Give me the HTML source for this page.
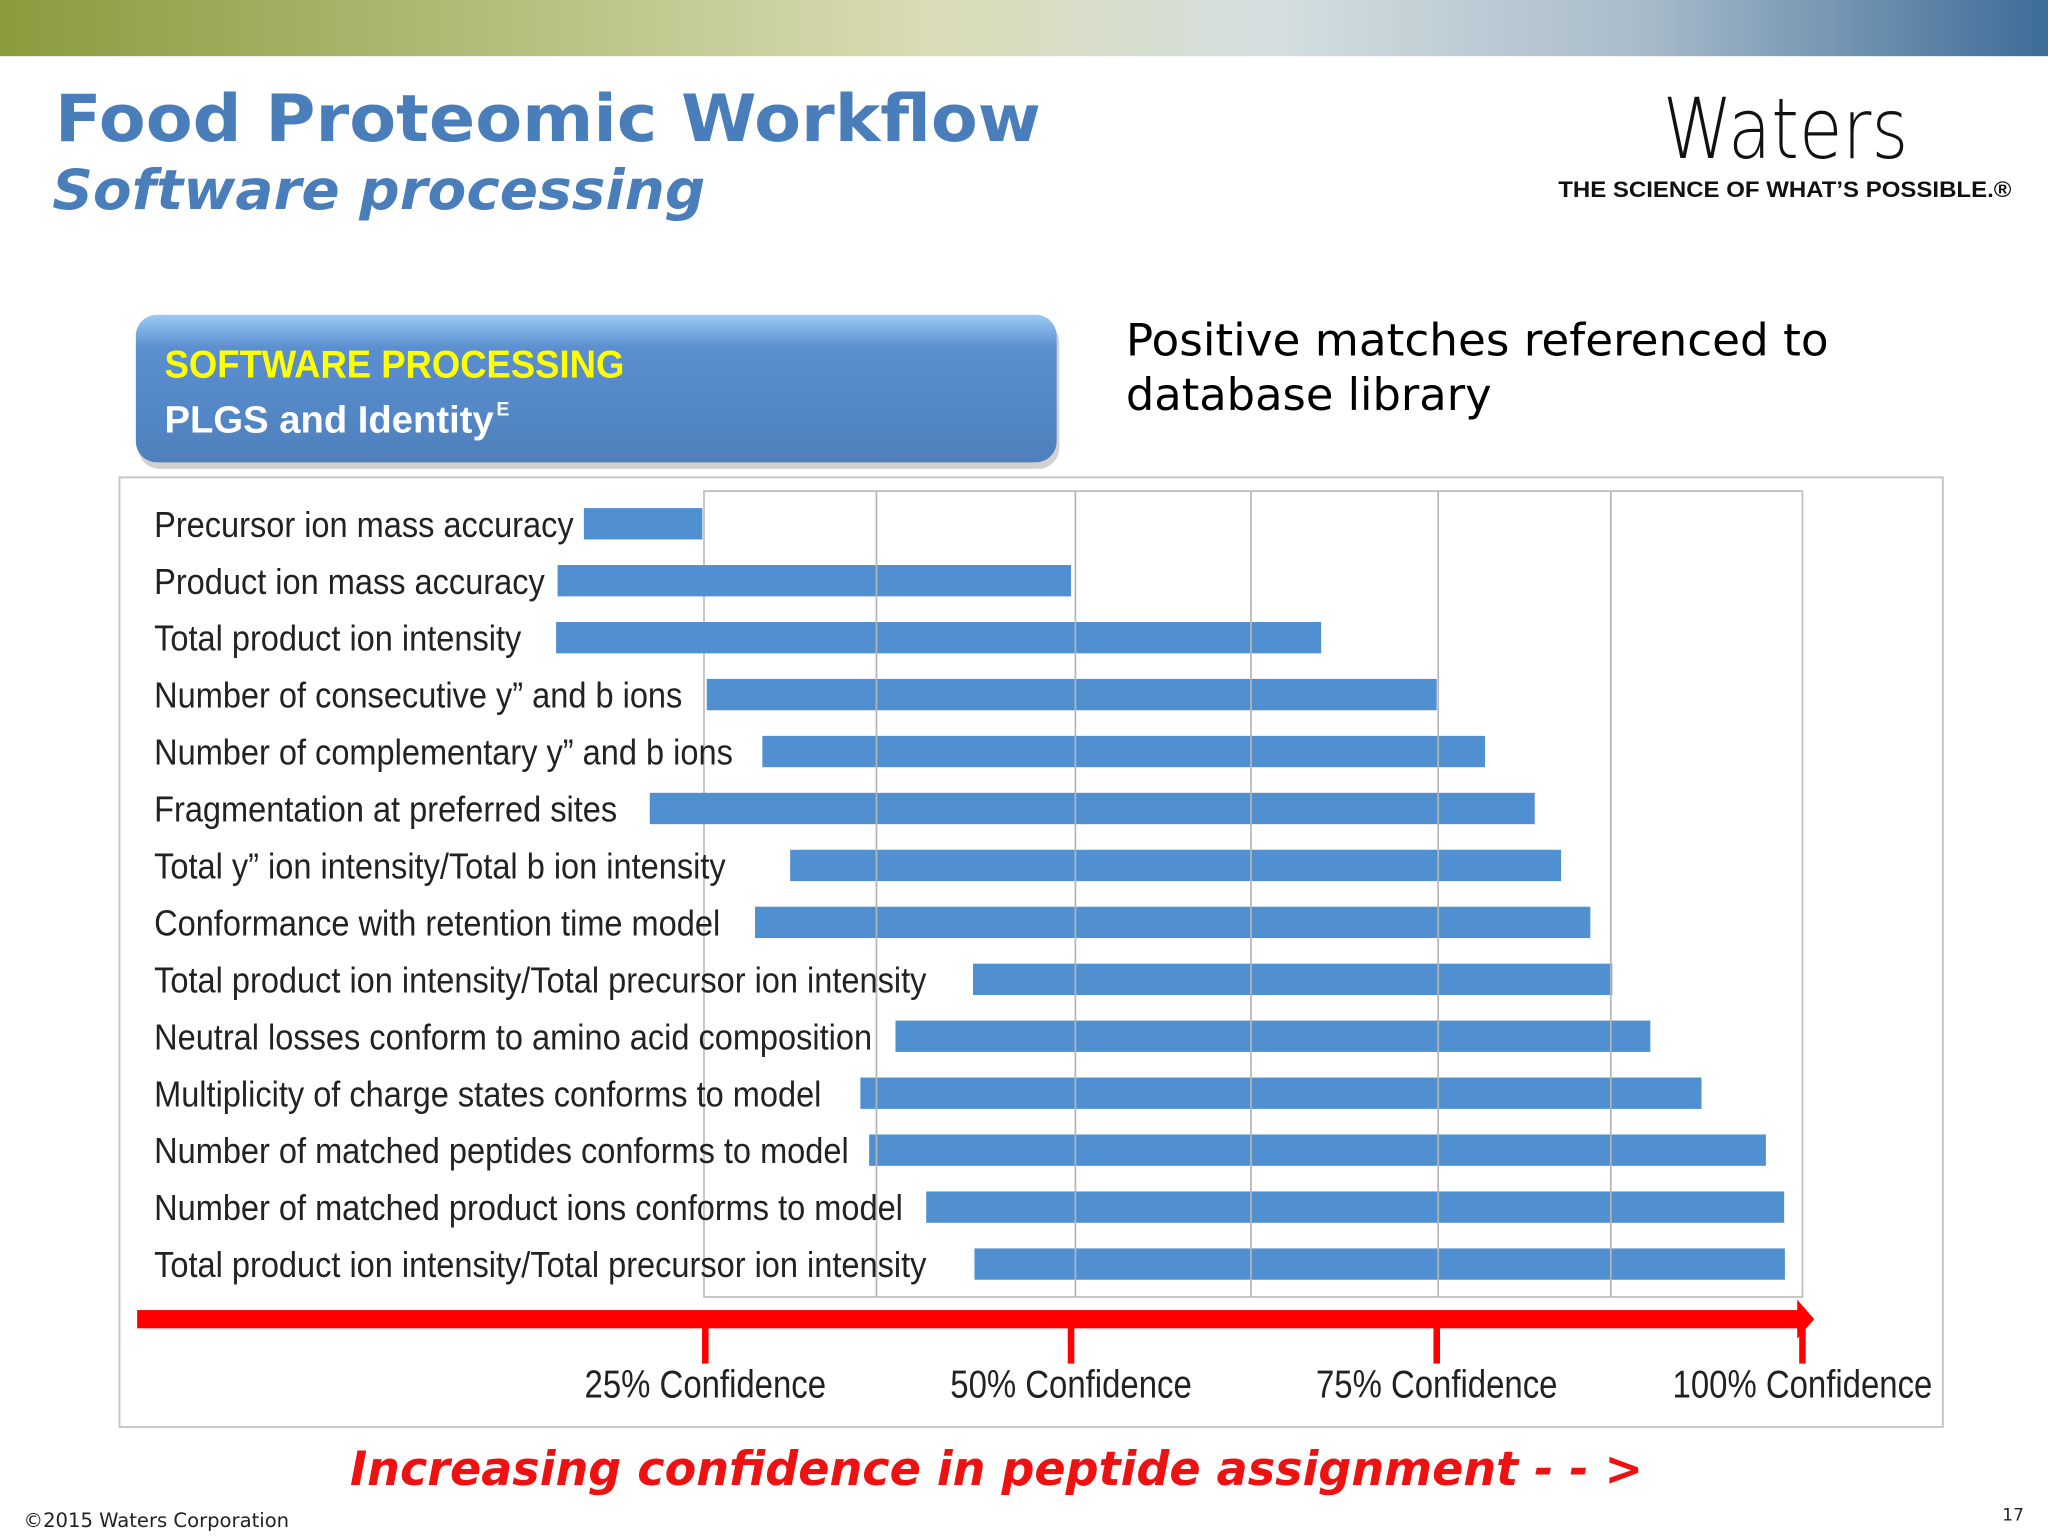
<!DOCTYPE html>
<html><head><meta charset="utf-8">
<style>
html,body{margin:0;padding:0;background:#fff;}
svg{display:block;}
</style></head>
<body>
<svg id="slide" width="2048" height="1536" viewBox="0 0 1568 1176" xmlns="http://www.w3.org/2000/svg">
<defs>
<linearGradient id="banner" x1="0" x2="1" y1="0" y2="0">
<stop offset="0" stop-color="#8a9b3c"/><stop offset="0.25" stop-color="#b5bf7e"/>
<stop offset="0.45" stop-color="#d9dcb4"/><stop offset="0.62" stop-color="#d5dfe0"/>
<stop offset="0.8" stop-color="#a9bccb"/><stop offset="1" stop-color="#3d6c98"/>
</linearGradient>
<linearGradient id="boxg" x1="0" x2="0" y1="0" y2="1">
<stop offset="0" stop-color="#9ccaf5"/><stop offset="0.22" stop-color="#5a8fd0"/>
<stop offset="1" stop-color="#4f80bd"/>
</linearGradient>
</defs>
<rect x="0" y="0" width="1568" height="43" fill="url(#banner)"/>
<text x="42" y="108" font-family="DejaVu Sans, sans-serif" font-weight="bold" font-size="50" fill="#4a7ebb" textLength="755" lengthAdjust="spacingAndGlyphs">Food Proteomic Workflow</text>
<text x="40" y="160" font-family="DejaVu Sans, sans-serif" font-weight="bold" font-style="italic" font-size="42" fill="#4a7ebb" textLength="500" lengthAdjust="spacingAndGlyphs">Software processing</text>
<text x="1273" y="121" font-family="DejaVu Sans, sans-serif" font-weight="200" font-size="64" fill="#111" textLength="188" lengthAdjust="spacingAndGlyphs">Waters</text>
<text x="1193" y="151" font-family="Liberation Sans, sans-serif" font-weight="bold" font-size="17" fill="#111" textLength="347" lengthAdjust="spacingAndGlyphs">THE SCIENCE OF WHAT’S POSSIBLE.®</text>

<rect x="106" y="246" width="705" height="113" rx="16" fill="#999" opacity="0.45"/>
<rect x="104" y="241" width="705" height="113" rx="16" fill="url(#boxg)"/>
<text x="126" y="289" font-family="Liberation Sans, sans-serif" font-weight="bold" font-size="30" fill="#ffff00" textLength="352" lengthAdjust="spacingAndGlyphs">SOFTWARE PROCESSING</text>
<text x="126" y="331" font-family="Liberation Sans, sans-serif" font-weight="bold" font-size="29" fill="#fff" textLength="252" lengthAdjust="spacingAndGlyphs">PLGS and Identity</text>
<text x="380" y="318" font-family="Liberation Sans, sans-serif" font-weight="bold" font-size="15" fill="#fff">E</text>

<text x="862" y="272" font-family="DejaVu Sans, sans-serif" font-size="34" fill="#000" textLength="538" lengthAdjust="spacingAndGlyphs">Positive matches referenced to</text>
<text x="862" y="314" font-family="DejaVu Sans, sans-serif" font-size="34" fill="#000" textLength="280" lengthAdjust="spacingAndGlyphs">database library</text>

<rect x="91.5" y="365.5" width="1396" height="727" fill="#fff" stroke="#c6c6c6" stroke-width="1.5"/>
<g id="chart"></g>

<text x="268" y="1137" font-family="DejaVu Sans, sans-serif" font-weight="bold" font-style="italic" font-size="36" fill="#ee1111" textLength="990" lengthAdjust="spacingAndGlyphs">Increasing confidence in peptide assignment  - - &gt;</text>
<text x="18" y="1169" font-family="DejaVu Sans, sans-serif" font-size="15" fill="#222">©2015 Waters Corporation</text>
<text x="1533" y="1164" font-family="DejaVu Sans, sans-serif" font-size="13" fill="#222">17</text>
</svg>
<script>
const categories = ["Precursor ion mass accuracy","Product ion mass accuracy","Total product ion intensity","Number of consecutive y” and b ions","Number of complementary y” and b ions","Fragmentation at preferred sites","Total y” ion intensity/Total b ion intensity","Conformance with retention time model","Total product ion intensity/Total precursor ion intensity","Neutral losses conform to amino acid composition","Multiplicity of charge states conforms to model","Number of matched peptides conforms to model","Number of matched product ions conforms to model","Total product ion intensity/Total precursor ion intensity"];
const barStart = [16.7,14.9,14.8,25.1,28.9,21.2,30.8,28.4,43.3,38.0,35.6,36.2,40.1,43.4];
const barEnd = [24.8,50.0,67.1,75.0,78.3,81.7,83.5,85.5,87.0,89.6,93.1,97.5,98.75,98.8];
const gridValues = [36.7,50.3,62.3,75.1,86.9];
const tickValues = [25,50,75,100];
const tickLabels = ["25% Confidence","50% Confidence","75% Confidence","100% Confidence"];

const NS = "http://www.w3.org/2000/svg";
const g = document.getElementById('chart');
const x = v => 540 + (v - 25) * 11.2;
const rowY = i => 401 + i * 43.6;
function mk(tag, attrs, parent){ const e=document.createElementNS(NS,tag); for(const k in attrs) e.setAttribute(k,attrs[k]); (parent||g).appendChild(e); return e; }

const box = mk('rect',{x:x(25)-1,y:376,width:x(100)-x(25)+1,height:617,fill:'none',stroke:'#bdbdbd','stroke-width':1.3});



const labels = [];
categories.forEach((c,i)=>{
  const r = mk('rect',{x:x(barStart[i]),y:rowY(i)-12,width:x(barEnd[i])-x(barStart[i]),height:24,fill:'#5190d0'});
  
  
  const t = mk('text',{x:118,y:rowY(i)+10,'font-family':'Liberation Sans, sans-serif','font-size':28,fill:'#222'});
  t.textContent = c;
  
  
  labels.push(t);
});
gridValues.forEach((v,i)=>{
  const l = mk('line',{x1:x(v),x2:x(v),y1:376,y2:993,stroke:'#b5b5b5','stroke-width':1.3});
  
  
});
labels.forEach(t=>{
  const w=t.getComputedTextLength();
  t.setAttribute('textLength', (w*0.89).toFixed(1));
  t.setAttribute('lengthAdjust','spacingAndGlyphs');
});
const axis = mk('rect',{x:105,y:1003,width:x(100)-105,height:14,fill:'#ff0000'});


const head = mk('polygon',{points:`${x(100)-4},995 ${x(100)+9},1010 ${x(100)-4},1025`,fill:'#ff0000'});


tickValues.forEach((v,i)=>{
  const tk = mk('rect',{x:x(v)-2.5,y:1010,width:5,height:34,fill:'#ff0000'});
  
  
  const t = mk('text',{x:x(v),y:1070,'text-anchor':'middle','font-family':'Liberation Sans, sans-serif','font-size':30,fill:'#222'});
  t.textContent = tickLabels[i];
  
  
  const w=t.getComputedTextLength();
  t.setAttribute('textLength',(w*0.84).toFixed(1));
  t.setAttribute('lengthAdjust','spacingAndGlyphs');
});
</script>
</body></html>
